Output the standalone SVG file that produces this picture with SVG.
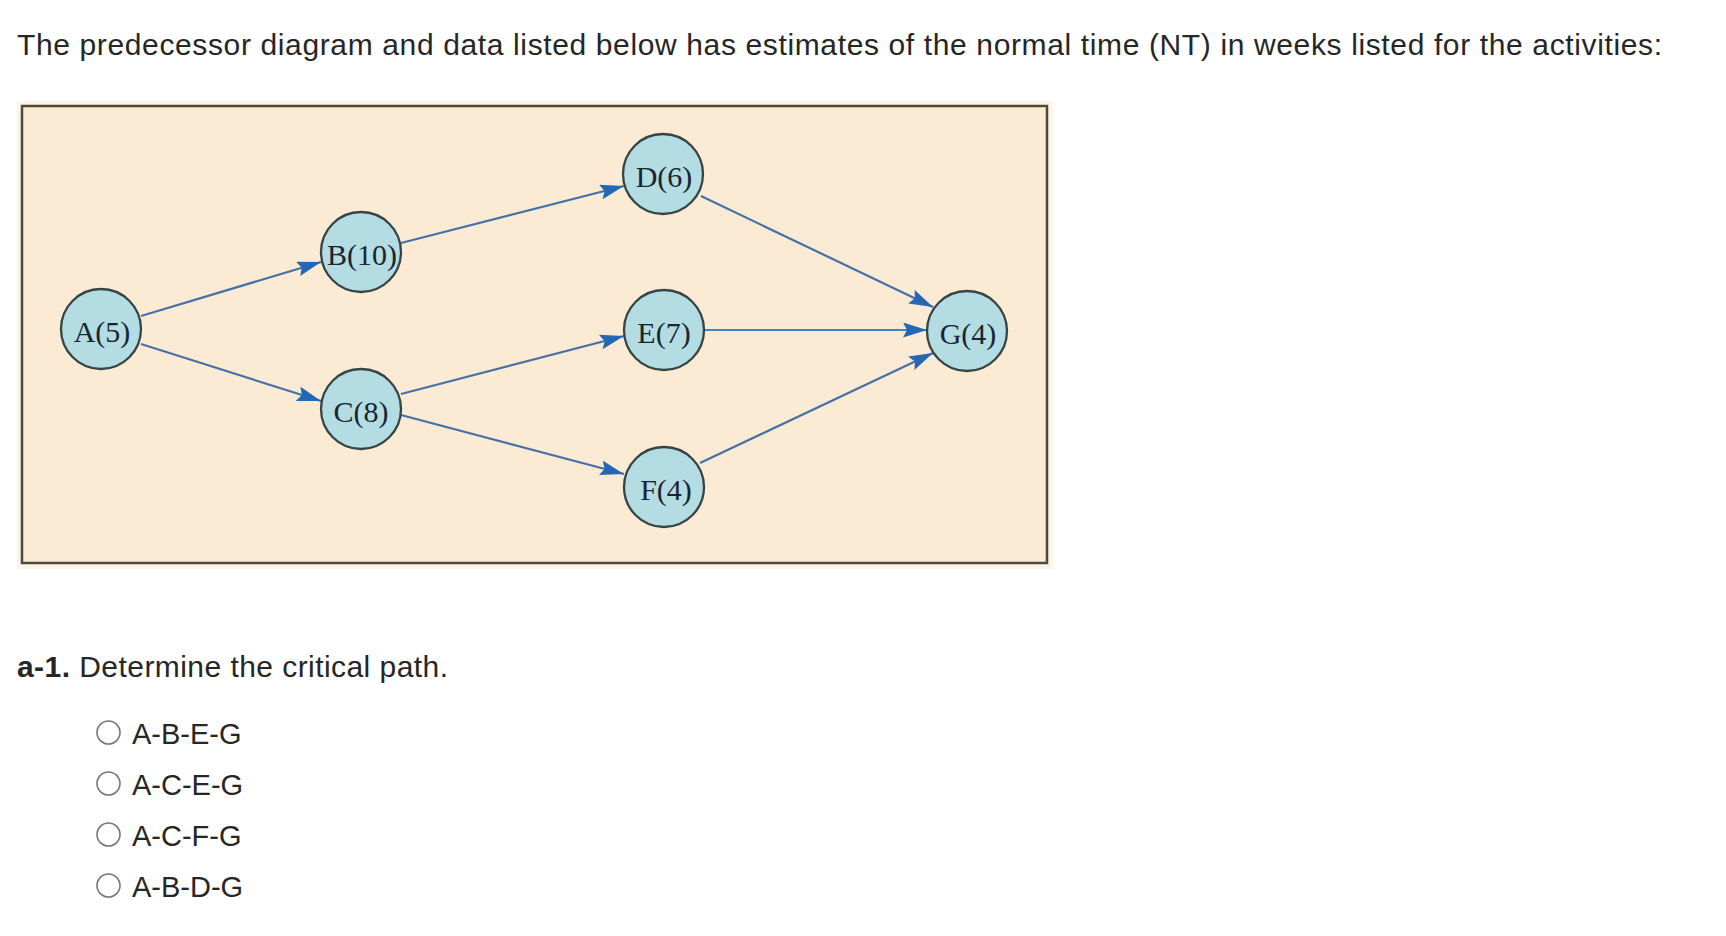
<svg xmlns="http://www.w3.org/2000/svg" width="1726" height="936" viewBox="0 0 1726 936">
<defs>
<style>
.q{font-family:"Liberation Sans",Arial,sans-serif;fill:#262626}
.node circle{fill:#b3dce3;stroke:#374445;stroke-width:2.3}
.node text{font-family:"Liberation Serif","Times New Roman",serif;font-size:30px;fill:#1a2530;text-anchor:middle}
.edge{stroke:#4570a8;stroke-width:2.2;fill:none;marker-end:url(#ah)}
.opt circle{fill:#fff;stroke:#767676;stroke-width:1.6}
</style>
<marker id="ah" markerUnits="userSpaceOnUse" markerWidth="26" markerHeight="16" refX="24" refY="7.5" orient="auto">
<path d="M0,0 L24,7.5 L0,15 L4,7.5 z" fill="#2468b5"/>
</marker>
</defs>
<rect width="1726" height="936" fill="#ffffff"/>
<text class="q" x="17" y="55" font-size="30" textLength="1645" lengthAdjust="spacing">The predecessor diagram and data listed below has estimates of the normal time (NT) in weeks listed for the activities:</text>
<rect x="17" y="101" width="1036" height="468" fill="#fdf5e7"/>
<rect x="22" y="106" width="1025" height="457" fill="#fcebd4" stroke="#4c4a3e" stroke-width="2.5"/>
<g id="connectors">
<line class="edge" x1="141" y1="316" x2="321" y2="262"/>
<line class="edge" x1="141" y1="344" x2="321" y2="401"/>
<line class="edge" x1="401" y1="243" x2="624" y2="186"/>
<line class="edge" x1="401" y1="394" x2="624" y2="336"/>
<line class="edge" x1="401" y1="415" x2="624" y2="474"/>
<line class="edge" x1="701" y1="196" x2="933" y2="307"/>
<line class="edge" x1="705" y1="330" x2="927" y2="330" style="stroke:#3a86c6"/>
<line class="edge" x1="700" y1="463" x2="933" y2="353"/>
</g>
<g id="node-A" class="node"><circle cx="101" cy="329" r="40"/><text x="102" y="342">A(5)</text></g>
<g id="node-B" class="node"><circle cx="361" cy="252" r="40"/><text x="362" y="265">B(10)</text></g>
<g id="node-C" class="node"><circle cx="361" cy="409" r="40"/><text x="361" y="422">C(8)</text></g>
<g id="node-D" class="node"><circle cx="663" cy="174" r="40"/><text x="664" y="187">D(6)</text></g>
<g id="node-E" class="node"><circle cx="664" cy="330" r="40"/><text x="664" y="343">E(7)</text></g>
<g id="node-F" class="node"><circle cx="664" cy="487" r="40"/><text x="666" y="500">F(4)</text></g>
<g id="node-G" class="node"><circle cx="967" cy="331" r="40"/><text x="968" y="344">G(4)</text></g>
<text class="q" x="17" y="677" font-size="30" textLength="431" lengthAdjust="spacing"><tspan font-weight="bold">a-1.</tspan> Determine the critical path.</text>
<g class="opt">
<circle cx="108.5" cy="732.5" r="11.5"/>
<text class="q" x="132" y="744" font-size="29">A-B-E-G</text>
<circle cx="108.5" cy="783.5" r="11.5"/>
<text class="q" x="132" y="795" font-size="29">A-C-E-G</text>
<circle cx="108.5" cy="834.5" r="11.5"/>
<text class="q" x="132" y="846" font-size="29">A-C-F-G</text>
<circle cx="108.5" cy="885.5" r="11.5"/>
<text class="q" x="132" y="897" font-size="29">A-B-D-G</text>
</g>
</svg>
